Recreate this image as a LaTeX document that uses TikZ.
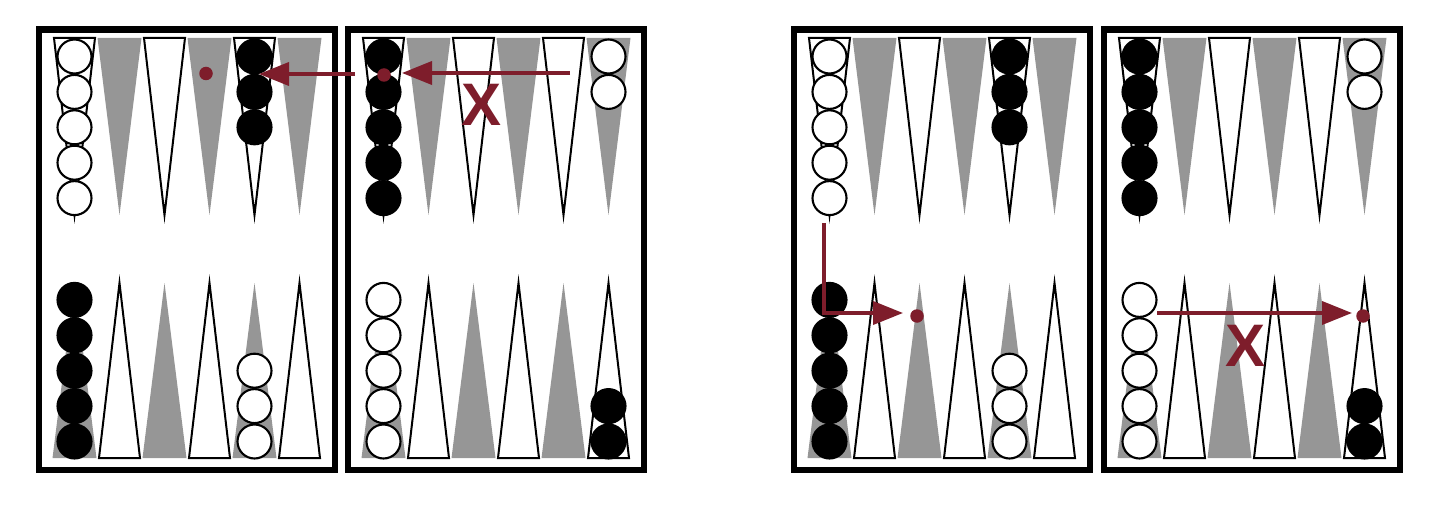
\documentclass[tikz,border=0pt]{standalone}
\usepackage{fontspec}
\setsansfont{Liberation Sans}
\usetikzlibrary{arrows.meta}
\definecolor{movered}{RGB}{126,29,43}
\definecolor{pointgray}{RGB}{150,150,150}
\tikzset{
  frame/.style={draw=black,line width=6.8pt},
  wpoint/.style={draw=black,line width=2pt,fill=white},
  gpoint/.style={fill=pointgray},
  wchk/.style={draw=black,line width=2.1pt,fill=white},
  bchk/.style={draw=black,line width=2.1pt,fill=black},
  move/.style={draw=movered,line width=3.8pt,-{Triangle[length=30pt,width=23pt]}},
  hitdot/.style={circle,fill=movered,inner sep=0pt,minimum size=13.5pt},
  xmark/.style={text=movered,inner sep=0pt,font=\fontsize{60}{60}\selectfont\sffamily\bfseries}
}
\begin{document}
\begin{tikzpicture}[x=1pt,y=-1pt]
\useasboundingbox (0,0) rectangle (1453,505);
% points and frames
\foreach \bx in {39,348,794,1104} {
  \foreach \i [evaluate=\i as \xl using \bx+13+45*(\i-1),
               evaluate=\i as \xm using \bx+35.5+45*(\i-1),
               evaluate=\i as \xr using \bx+58+45*(\i-1)] in {1,...,6} {
    \ifodd\i
      \draw[wpoint] (\xl+2,38) -- (\xr-2,38) -- (\xm,215) -- cycle;
      \fill[gpoint] (\xl+0.5,458) -- (\xr-0.5,458) -- (\xm,283) -- cycle;
    \else
      \fill[gpoint] (\xl+0.5,38) -- (\xr-0.5,38) -- (\xm,215) -- cycle;
      \draw[wpoint] (\xl+2,458) -- (\xr-2,458) -- (\xm,283) -- cycle;
    \fi
  }
  \draw[frame] (\bx,29.5) rectangle ++(296,440.5);
}
% checkers
\foreach \cx in {74.5,829.5} {
  \foreach \k in {0,...,4} {
    \draw[wchk] (\cx,56.5+35.4*\k) circle (17pt);
    \draw[bchk] (\cx,441.5-35.4*\k) circle (17pt);
  }
  \foreach \k in {0,1,2} {
    \draw[bchk] (\cx+180,56.5+35.4*\k) circle (17pt);
    \draw[wchk] (\cx+180,441.5-35.4*\k) circle (17pt);
  }
}
\foreach \cx in {383.5,1139.5} {
  \foreach \k in {0,...,4} {
    \draw[bchk] (\cx,56.5+35.4*\k) circle (17pt);
    \draw[wchk] (\cx,441.5-35.4*\k) circle (17pt);
  }
  \foreach \k in {0,1} {
    \draw[wchk] (\cx+225,56.5+35.4*\k) circle (17pt);
    \draw[bchk] (\cx+225,441.5-35.4*\k) circle (17pt);
  }
}
% moves
\coordinate (fromA) at (570,73);
\coordinate (toA) at (402,73);
\coordinate (fromB) at (355,74);
\coordinate (toB) at (259,74);
\coordinate (fromC) at (824,223);
\coordinate (toC) at (903,313);
\coordinate (fromD) at (1157,313);
\coordinate (toD) at (1352,313);
\node[hitdot] (hitA) at (384,75) {};
\node[hitdot] (hitB) at (206,73.5) {};
\node[hitdot] (hitC) at (917,316) {};
\node[hitdot] (hitD) at (1363,316) {};
\draw[move] (fromA) -- (toA);
\draw[move] (fromB) -- (toB);
\draw[move] (fromC) |- (toC);
\draw[move] (fromD) -- (toD);
\node[xmark] (crossA) at (482,105) {X};
\node[xmark] (crossD) at (1245,346) {X};
\end{tikzpicture}
\end{document}
